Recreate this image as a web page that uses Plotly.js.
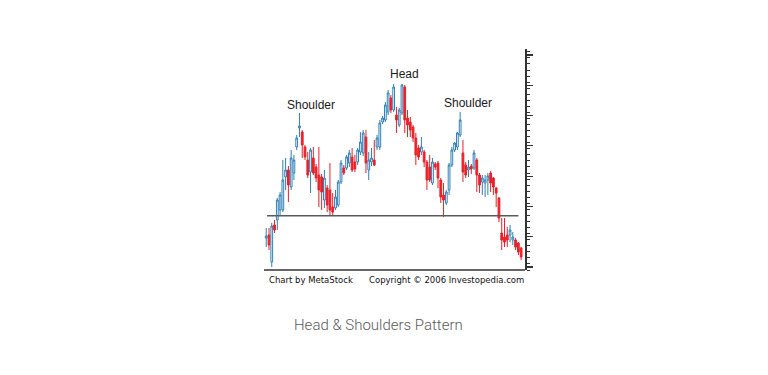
<!DOCTYPE html>
<html>
<head>
<meta charset="utf-8">
<script src="https://cdn.plot.ly/plotly-3.0.1.min.js"></script>
<style>
  html, body { margin: 0; padding: 0; background: #ffffff; }
  #chart { width: 768px; height: 375px; }
</style>
</head>
<body>
<div id="chart"></div>
<script>
// Daily OHLC (price units)
const openPrices  = [32,35,8,45,50,60,60,93,100,83,97,123,142,138,123,110,98,112,103,95,93,70,82,80,63,62,65,88,102,102,107,113,108,108,118,117,133,100,108,110,123,123,148,150,158,172,160,155,145,157,183,152,148,143,132,122,118,118,108,103,87,106,107,90,75,67,80,105,120,123,135,117,105,100,104,102,110,95,88,87,90,97,92,82,72,37,33,35,35,30,30,27,22];
const highPrices  = [42,42,47,50,72,78,110,112,104,120,115,135,157,140,125,118,122,123,106,123,96,100,85,107,77,80,90,110,105,115,120,122,115,122,138,140,140,118,122,130,135,150,154,168,180,175,186,163,162,186,185,160,153,145,137,125,133,120,110,115,112,108,109,92,87,80,107,123,128,138,158,130,108,110,106,120,112,97,95,95,97,99,93,83,73,52,52,43,45,38,32,28,23];
const lowPrices   = [23,20,3,37,40,55,58,80,68,80,90,120,133,112,110,92,77,95,88,63,60,62,58,55,55,60,63,86,95,100,103,98,98,105,115,114,97,90,104,104,120,120,146,148,155,157,158,137,143,155,137,133,133,128,105,110,115,103,80,88,85,100,82,67,53,65,75,103,118,120,133,88,92,93,96,100,78,77,75,73,75,78,75,63,48,20,23,23,28,25,20,15,10];
const closePrices = [34,25,44,40,70,75,90,100,85,112,110,132,144,125,113,95,120,97,92,80,78,92,65,60,58,73,88,107,97,113,117,100,101,120,128,137,107,110,112,105,132,147,152,165,177,160,183,150,160,185,150,145,140,132,115,113,123,108,90,90,108,103,92,73,70,78,105,120,127,137,150,98,95,103,101,117,95,85,92,90,94,87,83,77,52,30,28,30,40,33,23,18,13];

// Neckline (horizontal support)
const neckX = [0.3, 91];
const neckY = [54.3, 54.3];

// Pattern labels
const labelText = ['Shoulder', 'Head', 'Shoulder'];
const labelX    = [16, 50, 73];
const labelY    = [165, 196, 167];

const dayIndex = openPrices.map((_, i) => i);

const candles = {
  type: 'candlestick',
  x: dayIndex,
  open: openPrices,
  high: highPrices,
  low: lowPrices,
  close: closePrices,
  increasing: { line: { color: '#2f7fb5', width: 1 }, fillcolor: '#ffffff' },
  decreasing: { line: { color: '#ea1f27', width: 1 }, fillcolor: '#ee2229' },
  whiskerwidth: 0,
  hoverinfo: 'none',
  showlegend: false
};

const neckline = {
  type: 'scatter',
  mode: 'lines',
  x: neckX,
  y: neckY,
  line: { color: '#5a5a5a', width: 1.5 },
  hoverinfo: 'none',
  showlegend: false
};

const annotations = labelText.map((t, i) => ({
  x: labelX[i], y: labelY[i], xref: 'x', yref: 'y',
  text: t, showarrow: false,
  font: { family: 'Liberation Sans, Arial, sans-serif', size: 12, color: '#1a1a1a' }
}));

annotations.push({
  x: 0.012, y: -0.045, xref: 'paper', yref: 'paper', xanchor: 'left', yanchor: 'middle',
  text: 'Chart by MetaStock', showarrow: false,
  font: { family: 'DejaVu Sans, sans-serif', size: 8.5, color: '#111111' }
});
annotations.push({
  x: 0.395, y: -0.045, xref: 'paper', yref: 'paper', xanchor: 'left', yanchor: 'middle',
  text: 'Copyright © 2006 Investopedia.com', showarrow: false,
  font: { family: 'DejaVu Sans, sans-serif', size: 8.5, color: '#111111' }
});
annotations.push({
  x: 0.44, y: -0.248, xref: 'paper', yref: 'paper', xanchor: 'center', yanchor: 'middle',
  text: 'Head &amp; Shoulders Pattern', showarrow: false,
  font: { family: 'Roboto, sans-serif', size: 15, color: '#5a5a5a', weight: 300 }
});

const layout = {
  width: 768,
  height: 375,
  margin: { l: 264, r: 243, t: 49, b: 105 },
  paper_bgcolor: '#ffffff',
  plot_bgcolor: '#ffffff',
  boxgap: 0.1,
  xaxis: {
    range: [-0.8, 93.4],
    showgrid: false, zeroline: false, showticklabels: false, ticks: '',
    showline: false,
    rangeslider: { visible: false },
    fixedrange: true
  },
  yaxis: {
    range: [0, 221],
    side: 'right',
    showgrid: false, zeroline: false, showticklabels: false,
    showline: true, linecolor: '#333333', linewidth: 1.5,
    ticks: 'outside', tick0: 3, dtick: 30.3, ticklen: 6, tickcolor: '#333333', tickwidth: 1.2,
    minor: { ticks: 'outside', dtick: 6.06, ticklen: 3, tickcolor: '#333333', tickwidth: 1, showgrid: false },
    fixedrange: true
  },
  shapes: [{
    type: 'line', xref: 'paper', yref: 'paper', x0: 0, x1: 1, y0: 0, y1: 0,
    line: { color: '#333333', width: 1.5 }, layer: 'above'
  }],
  annotations: annotations,
  showlegend: false
};

Plotly.newPlot('chart', [candles, neckline], layout, { displayModeBar: false, staticPlot: true });
</script>
</body>
</html>
